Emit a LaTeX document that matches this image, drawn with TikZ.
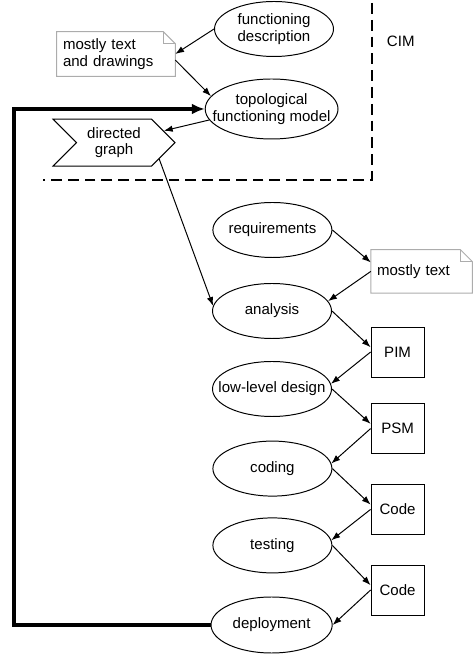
\documentclass[tikz,border=0pt]{standalone}
\usepackage{fontspec}
\setmainfont{Liberation Sans}
\usetikzlibrary{shapes.geometric,shapes.symbols,arrows.meta}
\tikzset{
  every node/.style={font=\fontsize{10.7}{12}\selectfont},
  phase/.style={draw,ellipse,line width=0.7pt,inner xsep=-0.3cm,inner ysep=0pt,
    minimum width=2.975cm,minimum height=1.375cm},
  model/.style={draw,rectangle,line width=0.7pt,minimum width=1.325cm,minimum height=1.25cm},
  notetext/.style={rectangle,align=left,inner ysep=0pt,inner xsep=0.15cm},
  noteline/.style={gray!65,line width=0.7pt},
  flow/.style={line width=0.7pt,-{Latex[length=0.22cm,width=0.16cm]}},
  feedback/.style={line width=2.3pt,-{Latex[length=0.32cm,width=0.27cm]}}
}
\begin{document}
\begin{tikzpicture}
\useasboundingbox (0,0) rectangle (11.85,16.425);
%\draw[step=0.5cm,gray,very thin] (0,0) grid (11.85,16.425);

% CIM part
\draw[line width=1pt,dash pattern=on 0.27cm off 0.15cm] (9.3,16.35)--(9.3,11.925)--(1.075,11.925);
\node[anchor=west] (cim) at (9.55,15.4) {CIM};

\node[phase,align=center] (fdesc) at (6.85,15.7) {functioning\\description};
\node[notetext,text width=2.65cm,minimum height=1.1cm] (note1) at (2.9,15.075) {mostly text\\and drawings};
\draw[noteline] (note1.north west)--([xshift=-0.3cm]note1.north east)--([yshift=-0.3cm]note1.north east)--(note1.south east)--(note1.south west)--cycle;
\draw[noteline] ([xshift=-0.3cm]note1.north east)--([xshift=-0.3cm,yshift=-0.3cm]note1.north east)--([yshift=-0.3cm]note1.north east);
\node[phase,align=center,minimum height=1.5cm] (tfm) at (6.79,13.7) {topological\\functioning model};
\node[draw,signal,signal to=east,signal from=west,signal pointer angle=90,line width=0.7pt,
  align=center,minimum width=3.05cm,minimum height=1.175cm,inner sep=0pt] (dgraph) at (2.85,12.86) {directed\\graph};

\draw[flow] (fdesc.west) -- (note1.east);
\draw[flow] ([yshift=-0.15cm]note1.east) -- (tfm.168);
\draw[flow] (tfm.190) -- (dgraph);

% development phases
\node[phase] (req) at (6.81,10.675) {requirements};
\node[notetext,text width=2.225cm,minimum height=1.075cm] (note2) at (10.54,9.64) {mostly text};
\draw[noteline] (note2.north west)--([xshift=-0.3cm]note2.north east)--([yshift=-0.3cm]note2.north east)--(note2.south east)--(note2.south west)--cycle;
\draw[noteline] ([xshift=-0.3cm]note2.north east)--([xshift=-0.3cm,yshift=-0.3cm]note2.north east)--([yshift=-0.3cm]note2.north east);
\node[phase] (analysis) at (6.8,8.65) {analysis};
\node[model] (pim) at (9.94,7.625) {PIM};
\node[phase] (lld) at (6.8,6.7) {low-level design};
\node[model] (psm) at (9.94,5.71) {PSM};
\node[phase] (coding) at (6.81,4.71) {coding};
\node[model] (code1) at (9.94,3.69) {Code};
\node[phase] (testing) at (6.81,2.79) {testing};
\node[model] (code2) at (9.94,1.675) {Code};
\node[phase,minimum width=3.03cm,minimum height=1.4cm] (deploy) at (6.79,0.8) {deployment};

\draw[flow] (dgraph.-20) -- (analysis.175);
\draw[flow] (req.east) -- (note2.170);
\draw[flow] (note2.west) -- (analysis.10);
\draw[flow] (analysis.east) -- (pim.170);
\draw[flow] (pim.west) -- (lld.5);
\draw[flow] (lld.east) -- (psm.170);
\draw[flow] (psm.west) -- (coding.5);
\draw[flow] (coding.east) -- (code1.170);
\draw[flow] (code1.west) -- (testing.5);
\draw[flow] (testing.east) -- (code2.170);
\draw[flow] (code2.west) -- (deploy.east);

% feedback loop
\coordinate (back) at (0.35,0);
\draw[feedback] (deploy.west) -- (deploy.west -| back) |- (tfm.west);

\end{tikzpicture}
\end{document}
